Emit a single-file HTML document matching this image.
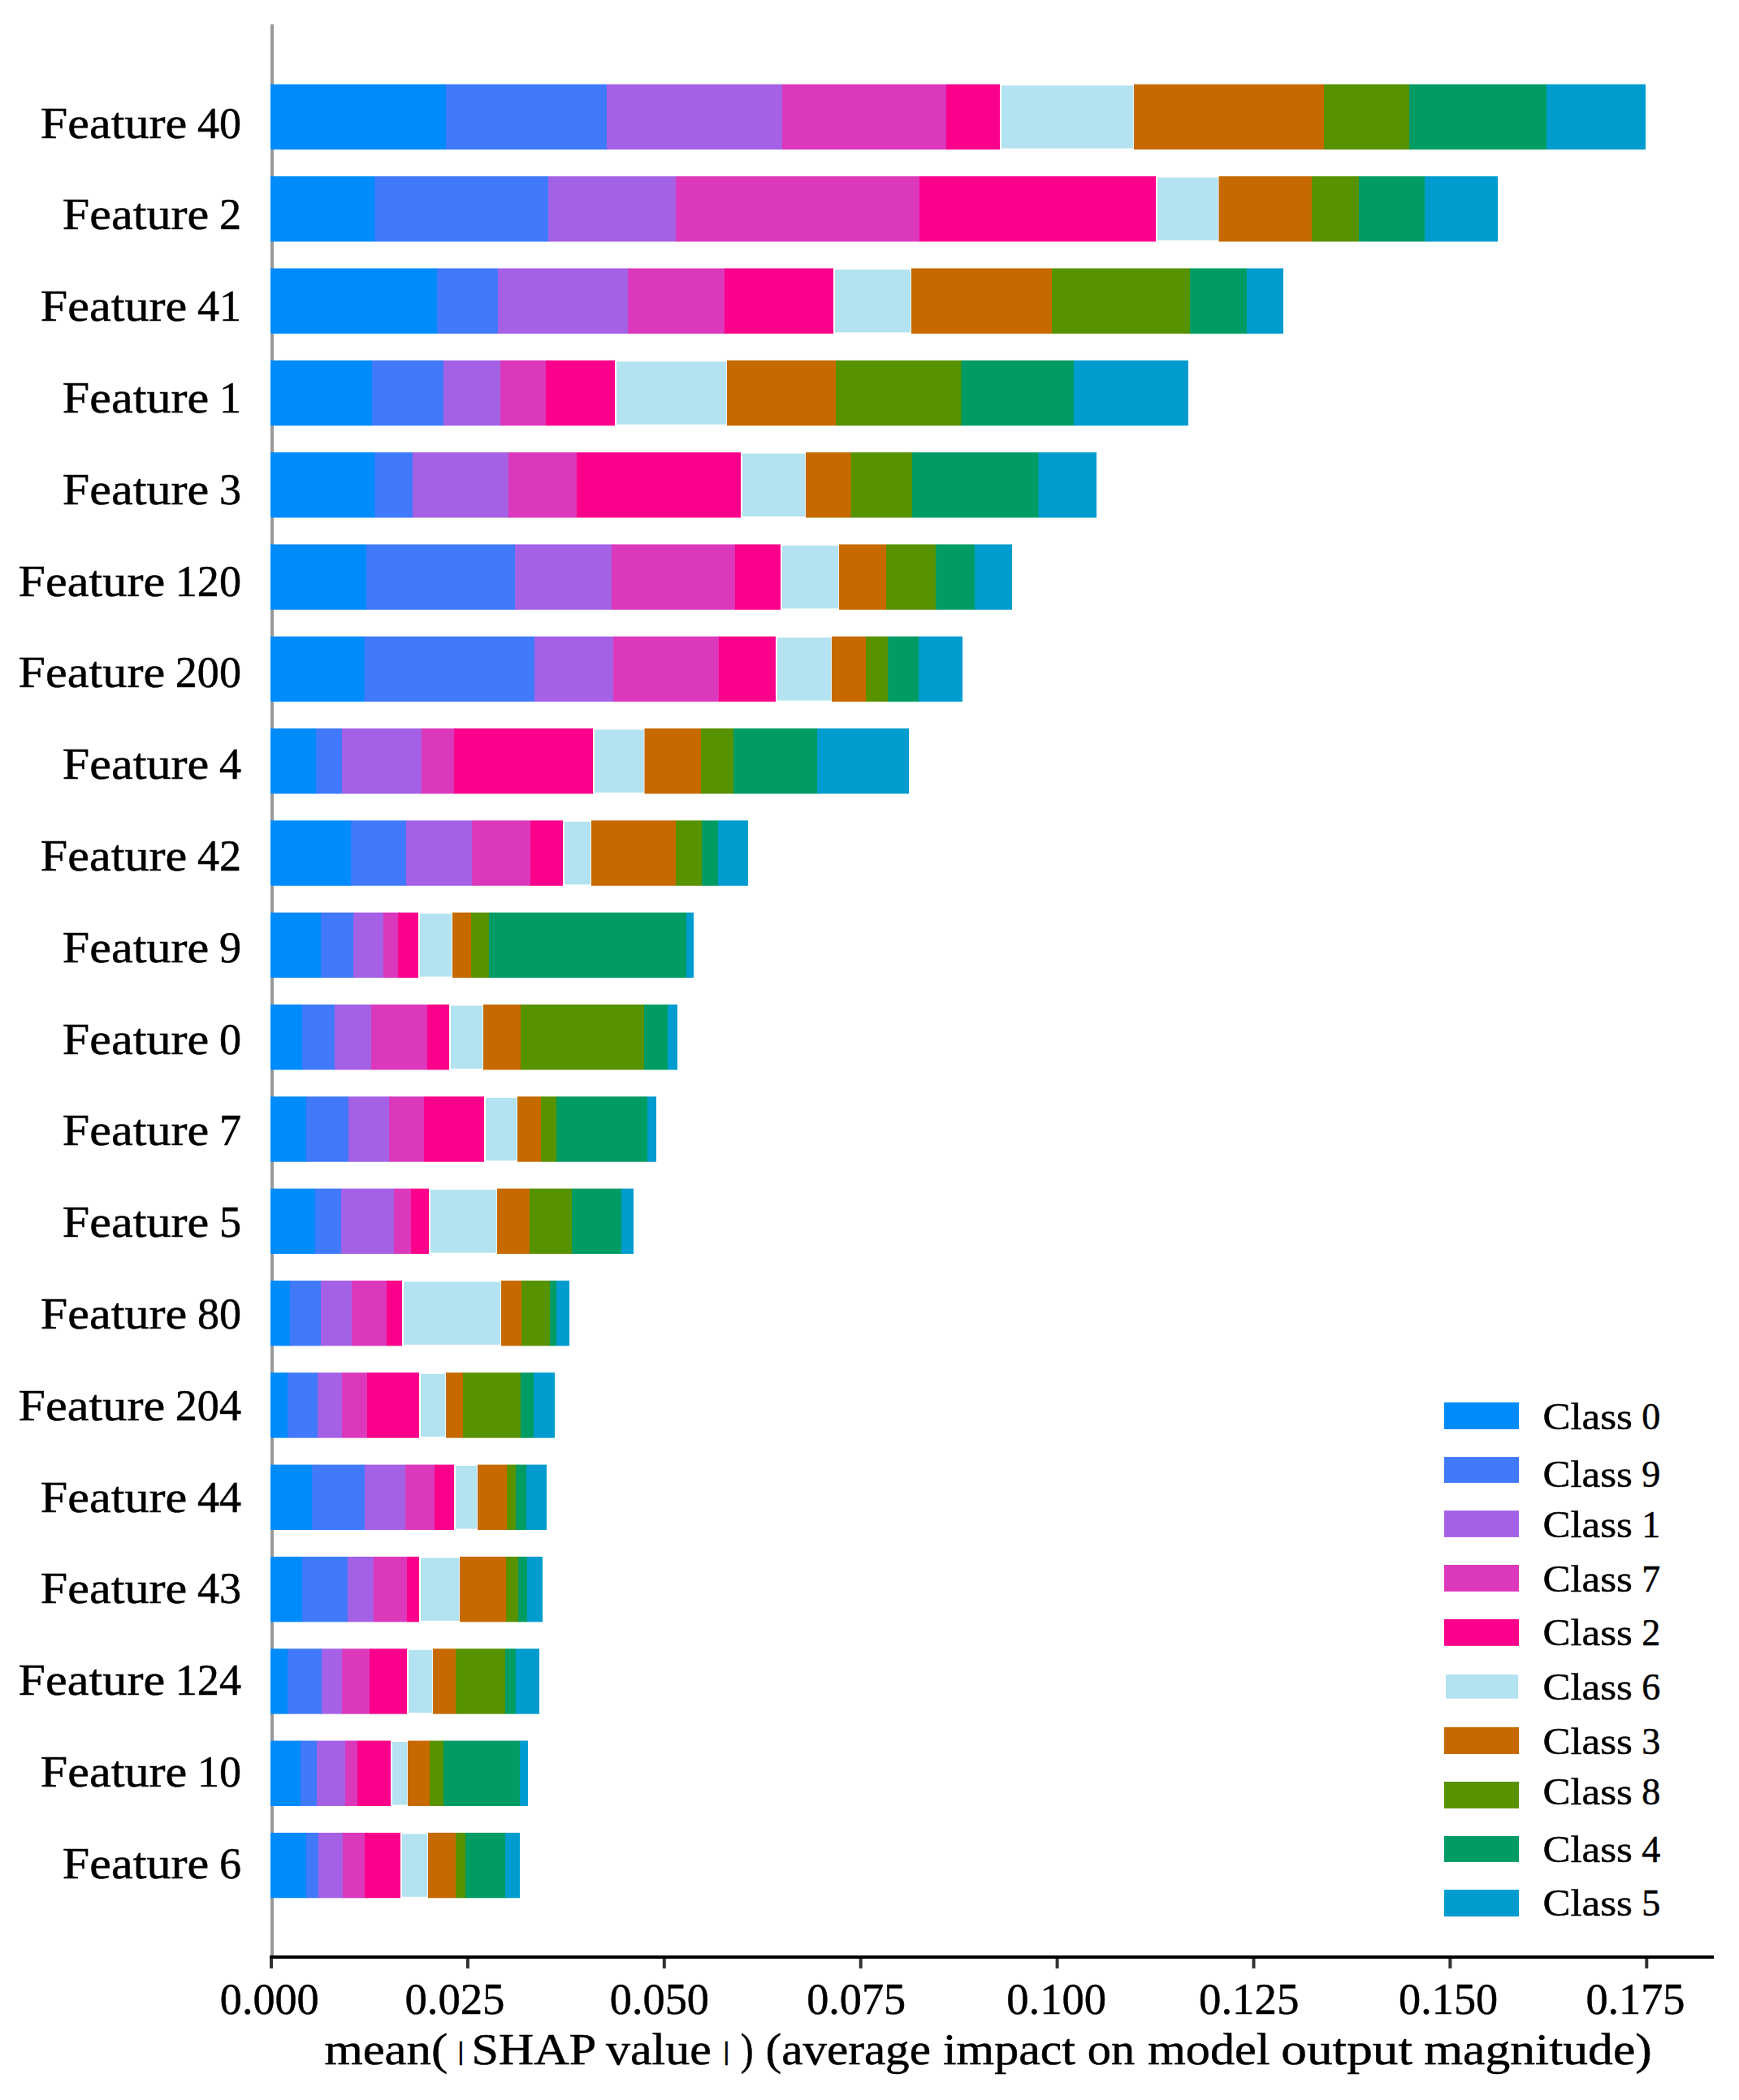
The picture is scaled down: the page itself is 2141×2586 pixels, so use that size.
<!DOCTYPE html>
<html lang="en"><head><meta charset="utf-8"><title>SHAP summary plot</title>
<style>html,body{margin:0;padding:0;background:#fff;width:2141px;height:2586px;overflow:hidden}svg{display:block}text{font-family:"Liberation Serif", serif;fill:#000;stroke:#000;stroke-width:0.5}</style>
</head><body>
<svg width="2141" height="2586" viewBox="0 0 2141 2586">
<rect x="0" y="0" width="2141" height="2586" fill="#ffffff"/>
<rect x="333" y="30" width="4" height="2380" fill="#999999"/>
<g>
<rect x="333.0" y="103.80" width="216.5" height="80.40" fill="#008bfb"/>
<rect x="549.0" y="103.80" width="198.5" height="80.40" fill="#4079fa"/>
<rect x="747.0" y="103.80" width="216.5" height="80.40" fill="#a461e6"/>
<rect x="963.0" y="103.80" width="202.5" height="80.40" fill="#dc38bc"/>
<rect x="1165.0" y="103.80" width="66.0" height="80.40" fill="#fa008b"/>
<rect x="1233.0" y="105.30" width="162.3" height="77.40" fill="#b3e2f0"/>
<rect x="1396.0" y="103.80" width="234.5" height="80.40" fill="#c66a00"/>
<rect x="1630.0" y="103.80" width="105.5" height="80.40" fill="#579200"/>
<rect x="1735.0" y="103.80" width="169.5" height="80.40" fill="#009c63"/>
<rect x="1904.0" y="103.80" width="122.0" height="80.40" fill="#009ccf"/>
</g>
<g>
<rect x="333.0" y="217.12" width="129.0" height="80.40" fill="#008bfb"/>
<rect x="461.5" y="217.12" width="214.0" height="80.40" fill="#4079fa"/>
<rect x="675.0" y="217.12" width="157.5" height="80.40" fill="#a461e6"/>
<rect x="832.0" y="217.12" width="300.5" height="80.40" fill="#dc38bc"/>
<rect x="1132.0" y="217.12" width="291.0" height="80.40" fill="#fa008b"/>
<rect x="1425.0" y="218.62" width="74.8" height="77.40" fill="#b3e2f0"/>
<rect x="1500.5" y="217.12" width="115.0" height="80.40" fill="#c66a00"/>
<rect x="1615.0" y="217.12" width="58.5" height="80.40" fill="#579200"/>
<rect x="1673.0" y="217.12" width="81.5" height="80.40" fill="#009c63"/>
<rect x="1754.0" y="217.12" width="90.0" height="80.40" fill="#009ccf"/>
</g>
<g>
<rect x="333.0" y="330.44" width="205.5" height="80.40" fill="#008bfb"/>
<rect x="538.0" y="330.44" width="75.5" height="80.40" fill="#4079fa"/>
<rect x="613.0" y="330.44" width="160.5" height="80.40" fill="#a461e6"/>
<rect x="773.0" y="330.44" width="119.5" height="80.40" fill="#dc38bc"/>
<rect x="892.0" y="330.44" width="134.0" height="80.40" fill="#fa008b"/>
<rect x="1028.0" y="331.94" width="93.3" height="77.40" fill="#b3e2f0"/>
<rect x="1122.0" y="330.44" width="173.5" height="80.40" fill="#c66a00"/>
<rect x="1295.0" y="330.44" width="170.5" height="80.40" fill="#579200"/>
<rect x="1465.0" y="330.44" width="70.5" height="80.40" fill="#009c63"/>
<rect x="1535.0" y="330.44" width="45.0" height="80.40" fill="#009ccf"/>
</g>
<g>
<rect x="333.0" y="443.76" width="125.5" height="80.40" fill="#008bfb"/>
<rect x="458.0" y="443.76" width="88.5" height="80.40" fill="#4079fa"/>
<rect x="546.0" y="443.76" width="70.5" height="80.40" fill="#a461e6"/>
<rect x="616.0" y="443.76" width="56.5" height="80.40" fill="#dc38bc"/>
<rect x="672.0" y="443.76" width="85.0" height="80.40" fill="#fa008b"/>
<rect x="759.0" y="445.26" width="135.3" height="77.40" fill="#b3e2f0"/>
<rect x="895.0" y="443.76" width="134.5" height="80.40" fill="#c66a00"/>
<rect x="1029.0" y="443.76" width="155.0" height="80.40" fill="#579200"/>
<rect x="1183.5" y="443.76" width="139.0" height="80.40" fill="#009c63"/>
<rect x="1322.0" y="443.76" width="141.0" height="80.40" fill="#009ccf"/>
</g>
<g>
<rect x="333.0" y="557.08" width="129.0" height="80.40" fill="#008bfb"/>
<rect x="461.5" y="557.08" width="47.0" height="80.40" fill="#4079fa"/>
<rect x="508.0" y="557.08" width="118.5" height="80.40" fill="#a461e6"/>
<rect x="626.0" y="557.08" width="84.5" height="80.40" fill="#dc38bc"/>
<rect x="710.0" y="557.08" width="202.0" height="80.40" fill="#fa008b"/>
<rect x="914.0" y="558.58" width="77.3" height="77.40" fill="#b3e2f0"/>
<rect x="992.0" y="557.08" width="56.0" height="80.40" fill="#c66a00"/>
<rect x="1047.5" y="557.08" width="76.0" height="80.40" fill="#579200"/>
<rect x="1123.0" y="557.08" width="156.0" height="80.40" fill="#009c63"/>
<rect x="1278.5" y="557.08" width="71.5" height="80.40" fill="#009ccf"/>
</g>
<g>
<rect x="333.0" y="670.40" width="118.5" height="80.40" fill="#008bfb"/>
<rect x="451.0" y="670.40" width="183.5" height="80.40" fill="#4079fa"/>
<rect x="634.0" y="670.40" width="119.5" height="80.40" fill="#a461e6"/>
<rect x="753.0" y="670.40" width="152.5" height="80.40" fill="#dc38bc"/>
<rect x="905.0" y="670.40" width="56.0" height="80.40" fill="#fa008b"/>
<rect x="963.0" y="671.90" width="69.3" height="77.40" fill="#b3e2f0"/>
<rect x="1033.0" y="670.40" width="58.5" height="80.40" fill="#c66a00"/>
<rect x="1091.0" y="670.40" width="61.5" height="80.40" fill="#579200"/>
<rect x="1152.0" y="670.40" width="48.5" height="80.40" fill="#009c63"/>
<rect x="1200.0" y="670.40" width="46.0" height="80.40" fill="#009ccf"/>
</g>
<g>
<rect x="333.0" y="783.72" width="116.0" height="80.40" fill="#008bfb"/>
<rect x="448.5" y="783.72" width="210.0" height="80.40" fill="#4079fa"/>
<rect x="658.0" y="783.72" width="97.5" height="80.40" fill="#a461e6"/>
<rect x="755.0" y="783.72" width="130.5" height="80.40" fill="#dc38bc"/>
<rect x="885.0" y="783.72" width="70.0" height="80.40" fill="#fa008b"/>
<rect x="957.0" y="785.22" width="66.3" height="77.40" fill="#b3e2f0"/>
<rect x="1024.0" y="783.72" width="42.5" height="80.40" fill="#c66a00"/>
<rect x="1066.0" y="783.72" width="27.5" height="80.40" fill="#579200"/>
<rect x="1093.0" y="783.72" width="38.5" height="80.40" fill="#009c63"/>
<rect x="1131.0" y="783.72" width="54.0" height="80.40" fill="#009ccf"/>
</g>
<g>
<rect x="333.0" y="897.04" width="56.5" height="80.40" fill="#008bfb"/>
<rect x="389.0" y="897.04" width="32.5" height="80.40" fill="#4079fa"/>
<rect x="421.0" y="897.04" width="98.5" height="80.40" fill="#a461e6"/>
<rect x="519.0" y="897.04" width="40.5" height="80.40" fill="#dc38bc"/>
<rect x="559.0" y="897.04" width="171.0" height="80.40" fill="#fa008b"/>
<rect x="732.0" y="898.54" width="60.8" height="77.40" fill="#b3e2f0"/>
<rect x="793.5" y="897.04" width="70.0" height="80.40" fill="#c66a00"/>
<rect x="863.0" y="897.04" width="40.5" height="80.40" fill="#579200"/>
<rect x="903.0" y="897.04" width="103.5" height="80.40" fill="#009c63"/>
<rect x="1006.0" y="897.04" width="113.0" height="80.40" fill="#009ccf"/>
</g>
<g>
<rect x="333.0" y="1010.36" width="99.5" height="80.40" fill="#008bfb"/>
<rect x="432.0" y="1010.36" width="68.5" height="80.40" fill="#4079fa"/>
<rect x="500.0" y="1010.36" width="81.5" height="80.40" fill="#a461e6"/>
<rect x="581.0" y="1010.36" width="72.5" height="80.40" fill="#dc38bc"/>
<rect x="653.0" y="1010.36" width="40.0" height="80.40" fill="#fa008b"/>
<rect x="695.0" y="1011.86" width="32.3" height="77.40" fill="#b3e2f0"/>
<rect x="728.0" y="1010.36" width="104.5" height="80.40" fill="#c66a00"/>
<rect x="832.0" y="1010.36" width="32.5" height="80.40" fill="#579200"/>
<rect x="864.0" y="1010.36" width="20.5" height="80.40" fill="#009c63"/>
<rect x="884.0" y="1010.36" width="37.0" height="80.40" fill="#009ccf"/>
</g>
<g>
<rect x="333.0" y="1123.68" width="62.5" height="80.40" fill="#008bfb"/>
<rect x="395.0" y="1123.68" width="40.5" height="80.40" fill="#4079fa"/>
<rect x="435.0" y="1123.68" width="37.5" height="80.40" fill="#a461e6"/>
<rect x="472.0" y="1123.68" width="18.5" height="80.40" fill="#dc38bc"/>
<rect x="490.0" y="1123.68" width="25.0" height="80.40" fill="#fa008b"/>
<rect x="517.0" y="1125.18" width="39.3" height="77.40" fill="#b3e2f0"/>
<rect x="557.0" y="1123.68" width="23.5" height="80.40" fill="#c66a00"/>
<rect x="580.0" y="1123.68" width="22.5" height="80.40" fill="#579200"/>
<rect x="602.0" y="1123.68" width="243.5" height="80.40" fill="#009c63"/>
<rect x="845.0" y="1123.68" width="9.0" height="80.40" fill="#009ccf"/>
</g>
<g>
<rect x="333.0" y="1237.00" width="39.5" height="80.40" fill="#008bfb"/>
<rect x="372.0" y="1237.00" width="40.5" height="80.40" fill="#4079fa"/>
<rect x="412.0" y="1237.00" width="45.5" height="80.40" fill="#a461e6"/>
<rect x="457.0" y="1237.00" width="69.5" height="80.40" fill="#dc38bc"/>
<rect x="526.0" y="1237.00" width="27.0" height="80.40" fill="#fa008b"/>
<rect x="555.0" y="1238.50" width="39.3" height="77.40" fill="#b3e2f0"/>
<rect x="595.0" y="1237.00" width="46.5" height="80.40" fill="#c66a00"/>
<rect x="641.0" y="1237.00" width="152.5" height="80.40" fill="#579200"/>
<rect x="793.0" y="1237.00" width="29.5" height="80.40" fill="#009c63"/>
<rect x="822.0" y="1237.00" width="12.0" height="80.40" fill="#009ccf"/>
</g>
<g>
<rect x="333.0" y="1350.32" width="44.5" height="80.40" fill="#008bfb"/>
<rect x="377.0" y="1350.32" width="52.5" height="80.40" fill="#4079fa"/>
<rect x="429.0" y="1350.32" width="50.5" height="80.40" fill="#a461e6"/>
<rect x="479.0" y="1350.32" width="43.5" height="80.40" fill="#dc38bc"/>
<rect x="522.0" y="1350.32" width="74.0" height="80.40" fill="#fa008b"/>
<rect x="598.0" y="1351.82" width="38.3" height="77.40" fill="#b3e2f0"/>
<rect x="637.0" y="1350.32" width="29.5" height="80.40" fill="#c66a00"/>
<rect x="666.0" y="1350.32" width="19.5" height="80.40" fill="#579200"/>
<rect x="685.0" y="1350.32" width="112.5" height="80.40" fill="#009c63"/>
<rect x="797.0" y="1350.32" width="11.0" height="80.40" fill="#009ccf"/>
</g>
<g>
<rect x="333.0" y="1463.64" width="55.5" height="80.40" fill="#008bfb"/>
<rect x="388.0" y="1463.64" width="32.5" height="80.40" fill="#4079fa"/>
<rect x="420.0" y="1463.64" width="65.5" height="80.40" fill="#a461e6"/>
<rect x="485.0" y="1463.64" width="21.5" height="80.40" fill="#dc38bc"/>
<rect x="506.0" y="1463.64" width="22.0" height="80.40" fill="#fa008b"/>
<rect x="530.0" y="1465.14" width="81.3" height="77.40" fill="#b3e2f0"/>
<rect x="612.0" y="1463.64" width="40.5" height="80.40" fill="#c66a00"/>
<rect x="652.0" y="1463.64" width="52.5" height="80.40" fill="#579200"/>
<rect x="704.0" y="1463.64" width="61.5" height="80.40" fill="#009c63"/>
<rect x="765.0" y="1463.64" width="15.0" height="80.40" fill="#009ccf"/>
</g>
<g>
<rect x="333.0" y="1576.96" width="24.5" height="80.40" fill="#008bfb"/>
<rect x="357.0" y="1576.96" width="38.5" height="80.40" fill="#4079fa"/>
<rect x="395.0" y="1576.96" width="38.5" height="80.40" fill="#a461e6"/>
<rect x="433.0" y="1576.96" width="43.5" height="80.40" fill="#dc38bc"/>
<rect x="476.0" y="1576.96" width="19.0" height="80.40" fill="#fa008b"/>
<rect x="497.0" y="1578.46" width="119.3" height="77.40" fill="#b3e2f0"/>
<rect x="617.0" y="1576.96" width="25.5" height="80.40" fill="#c66a00"/>
<rect x="642.0" y="1576.96" width="35.5" height="80.40" fill="#579200"/>
<rect x="677.0" y="1576.96" width="8.5" height="80.40" fill="#009c63"/>
<rect x="685.0" y="1576.96" width="16.0" height="80.40" fill="#009ccf"/>
</g>
<g>
<rect x="333.0" y="1690.28" width="21.5" height="80.40" fill="#008bfb"/>
<rect x="354.0" y="1690.28" width="37.5" height="80.40" fill="#4079fa"/>
<rect x="391.0" y="1690.28" width="30.5" height="80.40" fill="#a461e6"/>
<rect x="421.0" y="1690.28" width="31.5" height="80.40" fill="#dc38bc"/>
<rect x="452.0" y="1690.28" width="64.0" height="80.40" fill="#fa008b"/>
<rect x="518.0" y="1691.78" width="30.3" height="77.40" fill="#b3e2f0"/>
<rect x="549.0" y="1690.28" width="21.5" height="80.40" fill="#c66a00"/>
<rect x="570.0" y="1690.28" width="71.5" height="80.40" fill="#579200"/>
<rect x="641.0" y="1690.28" width="16.5" height="80.40" fill="#009c63"/>
<rect x="657.0" y="1690.28" width="26.0" height="80.40" fill="#009ccf"/>
</g>
<g>
<rect x="333.0" y="1803.60" width="51.5" height="80.40" fill="#008bfb"/>
<rect x="384.0" y="1803.60" width="65.5" height="80.40" fill="#4079fa"/>
<rect x="449.0" y="1803.60" width="50.5" height="80.40" fill="#a461e6"/>
<rect x="499.0" y="1803.60" width="36.5" height="80.40" fill="#dc38bc"/>
<rect x="535.0" y="1803.60" width="24.0" height="80.40" fill="#fa008b"/>
<rect x="561.0" y="1805.10" width="26.3" height="77.40" fill="#b3e2f0"/>
<rect x="588.0" y="1803.60" width="36.5" height="80.40" fill="#c66a00"/>
<rect x="624.0" y="1803.60" width="11.5" height="80.40" fill="#579200"/>
<rect x="635.0" y="1803.60" width="13.5" height="80.40" fill="#009c63"/>
<rect x="648.0" y="1803.60" width="25.0" height="80.40" fill="#009ccf"/>
</g>
<g>
<rect x="333.0" y="1916.92" width="39.5" height="80.40" fill="#008bfb"/>
<rect x="372.0" y="1916.92" width="56.5" height="80.40" fill="#4079fa"/>
<rect x="428.0" y="1916.92" width="32.5" height="80.40" fill="#a461e6"/>
<rect x="460.0" y="1916.92" width="41.5" height="80.40" fill="#dc38bc"/>
<rect x="501.0" y="1916.92" width="15.0" height="80.40" fill="#fa008b"/>
<rect x="518.0" y="1918.42" width="47.3" height="77.40" fill="#b3e2f0"/>
<rect x="566.0" y="1916.92" width="57.5" height="80.40" fill="#c66a00"/>
<rect x="623.0" y="1916.92" width="15.5" height="80.40" fill="#579200"/>
<rect x="638.0" y="1916.92" width="11.5" height="80.40" fill="#009c63"/>
<rect x="649.0" y="1916.92" width="19.0" height="80.40" fill="#009ccf"/>
</g>
<g>
<rect x="333.0" y="2030.24" width="21.5" height="80.40" fill="#008bfb"/>
<rect x="354.0" y="2030.24" width="42.5" height="80.40" fill="#4079fa"/>
<rect x="396.0" y="2030.24" width="25.5" height="80.40" fill="#a461e6"/>
<rect x="421.0" y="2030.24" width="34.5" height="80.40" fill="#dc38bc"/>
<rect x="455.0" y="2030.24" width="46.0" height="80.40" fill="#fa008b"/>
<rect x="503.0" y="2031.74" width="29.3" height="77.40" fill="#b3e2f0"/>
<rect x="533.0" y="2030.24" width="28.5" height="80.40" fill="#c66a00"/>
<rect x="561.0" y="2030.24" width="61.5" height="80.40" fill="#579200"/>
<rect x="622.0" y="2030.24" width="13.5" height="80.40" fill="#009c63"/>
<rect x="635.0" y="2030.24" width="29.0" height="80.40" fill="#009ccf"/>
</g>
<g>
<rect x="333.0" y="2143.56" width="37.5" height="80.40" fill="#008bfb"/>
<rect x="370.0" y="2143.56" width="20.5" height="80.40" fill="#4079fa"/>
<rect x="390.0" y="2143.56" width="35.5" height="80.40" fill="#a461e6"/>
<rect x="425.0" y="2143.56" width="15.5" height="80.40" fill="#dc38bc"/>
<rect x="440.0" y="2143.56" width="41.0" height="80.40" fill="#fa008b"/>
<rect x="483.0" y="2145.06" width="18.3" height="77.40" fill="#b3e2f0"/>
<rect x="502.0" y="2143.56" width="27.5" height="80.40" fill="#c66a00"/>
<rect x="529.0" y="2143.56" width="17.5" height="80.40" fill="#579200"/>
<rect x="546.0" y="2143.56" width="94.5" height="80.40" fill="#009c63"/>
<rect x="640.0" y="2143.56" width="10.0" height="80.40" fill="#009ccf"/>
</g>
<g>
<rect x="333.0" y="2256.88" width="44.5" height="80.40" fill="#008bfb"/>
<rect x="377.0" y="2256.88" width="15.5" height="80.40" fill="#4079fa"/>
<rect x="392.0" y="2256.88" width="30.5" height="80.40" fill="#a461e6"/>
<rect x="422.0" y="2256.88" width="27.5" height="80.40" fill="#dc38bc"/>
<rect x="449.0" y="2256.88" width="44.0" height="80.40" fill="#fa008b"/>
<rect x="495.0" y="2258.38" width="31.3" height="77.40" fill="#b3e2f0"/>
<rect x="527.0" y="2256.88" width="34.5" height="80.40" fill="#c66a00"/>
<rect x="561.0" y="2256.88" width="12.5" height="80.40" fill="#579200"/>
<rect x="573.0" y="2256.88" width="49.5" height="80.40" fill="#009c63"/>
<rect x="622.0" y="2256.88" width="18.0" height="80.40" fill="#009ccf"/>
</g>
<rect x="332.0" y="2410" width="4" height="14" fill="#333333"/>
<rect x="573.9" y="2410" width="4" height="14" fill="#333333"/>
<rect x="815.8" y="2410" width="4" height="14" fill="#333333"/>
<rect x="1057.7" y="2410" width="4" height="14" fill="#333333"/>
<rect x="1299.6" y="2410" width="4" height="14" fill="#333333"/>
<rect x="1541.5" y="2410" width="4" height="14" fill="#333333"/>
<rect x="1783.4" y="2410" width="4" height="14" fill="#333333"/>
<rect x="2025.3" y="2410" width="4" height="14" fill="#333333"/>
<rect x="332" y="2408" width="1778" height="4" fill="#000000"/>
<rect x="1778" y="1727.0" width="92" height="33.0" fill="#008bfb"/>
<rect x="1778" y="1794.1" width="92" height="31.9" fill="#4079fa"/>
<rect x="1778" y="1860.2" width="92" height="32.7" fill="#a461e6"/>
<rect x="1778" y="1927.0" width="92" height="32.8" fill="#dc38bc"/>
<rect x="1778" y="1993.9" width="92" height="32.9" fill="#fa008b"/>
<rect x="1780" y="2062.1" width="89" height="29.6" fill="#b3e2f0"/>
<rect x="1778" y="2126.9" width="92" height="33.1" fill="#c66a00"/>
<rect x="1778" y="2194.0" width="92" height="32.9" fill="#579200"/>
<rect x="1778" y="2261.0" width="92" height="31.9" fill="#009c63"/>
<rect x="1778" y="2327.1" width="92" height="32.9" fill="#009ccf"/>
<text y="169.5" font-size="55"><tspan x="49.7" y="169.5" textLength="180.6" lengthAdjust="spacingAndGlyphs">Feature</tspan> <tspan x="242.9" y="169.5" textLength="54.1" lengthAdjust="spacingAndGlyphs">40</tspan></text>
<text y="282.3" font-size="55"><tspan x="76.7" y="282.3" textLength="180.6" lengthAdjust="spacingAndGlyphs">Feature</tspan> <tspan x="269.9" y="282.3" textLength="27.1" lengthAdjust="spacingAndGlyphs">2</tspan></text>
<text y="395.1" font-size="55"><tspan x="49.7" y="395.1" textLength="180.6" lengthAdjust="spacingAndGlyphs">Feature</tspan> <tspan x="242.9" y="395.1" textLength="54.1" lengthAdjust="spacingAndGlyphs">41</tspan></text>
<text y="507.9" font-size="55"><tspan x="76.7" y="507.9" textLength="180.6" lengthAdjust="spacingAndGlyphs">Feature</tspan> <tspan x="269.9" y="507.9" textLength="27.1" lengthAdjust="spacingAndGlyphs">1</tspan></text>
<text y="620.7" font-size="55"><tspan x="76.7" y="620.7" textLength="180.6" lengthAdjust="spacingAndGlyphs">Feature</tspan> <tspan x="269.9" y="620.7" textLength="27.1" lengthAdjust="spacingAndGlyphs">3</tspan></text>
<text y="733.5" font-size="55"><tspan x="22.6" y="733.5" textLength="180.6" lengthAdjust="spacingAndGlyphs">Feature</tspan> <tspan x="215.8" y="733.5" textLength="81.2" lengthAdjust="spacingAndGlyphs">120</tspan></text>
<text y="846.3" font-size="55"><tspan x="22.6" y="846.3" textLength="180.6" lengthAdjust="spacingAndGlyphs">Feature</tspan> <tspan x="215.8" y="846.3" textLength="81.2" lengthAdjust="spacingAndGlyphs">200</tspan></text>
<text y="959.1" font-size="55"><tspan x="76.7" y="959.1" textLength="180.6" lengthAdjust="spacingAndGlyphs">Feature</tspan> <tspan x="269.9" y="959.1" textLength="27.1" lengthAdjust="spacingAndGlyphs">4</tspan></text>
<text y="1071.9" font-size="55"><tspan x="49.7" y="1071.9" textLength="180.6" lengthAdjust="spacingAndGlyphs">Feature</tspan> <tspan x="242.9" y="1071.9" textLength="54.1" lengthAdjust="spacingAndGlyphs">42</tspan></text>
<text y="1184.7" font-size="55"><tspan x="76.7" y="1184.7" textLength="180.6" lengthAdjust="spacingAndGlyphs">Feature</tspan> <tspan x="269.9" y="1184.7" textLength="27.1" lengthAdjust="spacingAndGlyphs">9</tspan></text>
<text y="1297.5" font-size="55"><tspan x="76.7" y="1297.5" textLength="180.6" lengthAdjust="spacingAndGlyphs">Feature</tspan> <tspan x="269.9" y="1297.5" textLength="27.1" lengthAdjust="spacingAndGlyphs">0</tspan></text>
<text y="1410.3" font-size="55"><tspan x="76.7" y="1410.3" textLength="180.6" lengthAdjust="spacingAndGlyphs">Feature</tspan> <tspan x="269.9" y="1410.3" textLength="27.1" lengthAdjust="spacingAndGlyphs">7</tspan></text>
<text y="1523.1" font-size="55"><tspan x="76.7" y="1523.1" textLength="180.6" lengthAdjust="spacingAndGlyphs">Feature</tspan> <tspan x="269.9" y="1523.1" textLength="27.1" lengthAdjust="spacingAndGlyphs">5</tspan></text>
<text y="1635.9" font-size="55"><tspan x="49.7" y="1635.9" textLength="180.6" lengthAdjust="spacingAndGlyphs">Feature</tspan> <tspan x="242.9" y="1635.9" textLength="54.1" lengthAdjust="spacingAndGlyphs">80</tspan></text>
<text y="1748.7" font-size="55"><tspan x="22.6" y="1748.7" textLength="180.6" lengthAdjust="spacingAndGlyphs">Feature</tspan> <tspan x="215.8" y="1748.7" textLength="81.2" lengthAdjust="spacingAndGlyphs">204</tspan></text>
<text y="1861.5" font-size="55"><tspan x="49.7" y="1861.5" textLength="180.6" lengthAdjust="spacingAndGlyphs">Feature</tspan> <tspan x="242.9" y="1861.5" textLength="54.1" lengthAdjust="spacingAndGlyphs">44</tspan></text>
<text y="1974.3" font-size="55"><tspan x="49.7" y="1974.3" textLength="180.6" lengthAdjust="spacingAndGlyphs">Feature</tspan> <tspan x="242.9" y="1974.3" textLength="54.1" lengthAdjust="spacingAndGlyphs">43</tspan></text>
<text y="2087.1" font-size="55"><tspan x="22.6" y="2087.1" textLength="180.6" lengthAdjust="spacingAndGlyphs">Feature</tspan> <tspan x="215.8" y="2087.1" textLength="81.2" lengthAdjust="spacingAndGlyphs">124</tspan></text>
<text y="2199.9" font-size="55"><tspan x="49.7" y="2199.9" textLength="180.6" lengthAdjust="spacingAndGlyphs">Feature</tspan> <tspan x="242.9" y="2199.9" textLength="54.1" lengthAdjust="spacingAndGlyphs">10</tspan></text>
<text y="2312.7" font-size="55"><tspan x="76.7" y="2312.7" textLength="180.6" lengthAdjust="spacingAndGlyphs">Feature</tspan> <tspan x="269.9" y="2312.7" textLength="27.1" lengthAdjust="spacingAndGlyphs">6</tspan></text>
<text y="2480.0" font-size="55"><tspan x="270.8" textLength="121.9" lengthAdjust="spacingAndGlyphs">0.000</tspan></text>
<text y="2480.0" font-size="55"><tspan x="498.4" textLength="123.0" lengthAdjust="spacingAndGlyphs">0.025</tspan></text>
<text y="2480.0" font-size="55"><tspan x="750.8" textLength="122.2" lengthAdjust="spacingAndGlyphs">0.050</tspan></text>
<text y="2480.0" font-size="55"><tspan x="993.2" textLength="121.9" lengthAdjust="spacingAndGlyphs">0.075</tspan></text>
<text y="2480.0" font-size="55"><tspan x="1239.3" textLength="122.8" lengthAdjust="spacingAndGlyphs">0.100</tspan></text>
<text y="2480.0" font-size="55"><tspan x="1476.0" textLength="123.3" lengthAdjust="spacingAndGlyphs">0.125</tspan></text>
<text y="2480.0" font-size="55"><tspan x="1722.1" textLength="122.1" lengthAdjust="spacingAndGlyphs">0.150</tspan></text>
<text y="2480.0" font-size="55"><tspan x="1952.4" textLength="122.1" lengthAdjust="spacingAndGlyphs">0.175</tspan></text>
<text y="2541.5" font-size="55"><tspan x="399.4" y="2541.5" textLength="151.8" lengthAdjust="spacingAndGlyphs">mean(</tspan><tspan x="563.0" font-size="31" y="2535.5" textLength="8.7" lengthAdjust="spacingAndGlyphs">|</tspan><tspan x="580.4" y="2541.5" textLength="151.6" lengthAdjust="spacingAndGlyphs">SHAP</tspan> <tspan x="746.0" y="2541.5" textLength="129.9" lengthAdjust="spacingAndGlyphs">value</tspan><tspan x="889.9" font-size="31" y="2535.5" textLength="8.7" lengthAdjust="spacingAndGlyphs">|</tspan><tspan x="911.7" y="2541.5" textLength="15.9" lengthAdjust="spacingAndGlyphs">)</tspan> <tspan x="942.5" y="2541.5" textLength="203.4" lengthAdjust="spacingAndGlyphs">(average</tspan> <tspan x="1160.9" y="2541.5" textLength="163.1" lengthAdjust="spacingAndGlyphs">impact</tspan> <tspan x="1338.8" y="2541.5" textLength="58.2" lengthAdjust="spacingAndGlyphs">on</tspan> <tspan x="1412.9" y="2541.5" textLength="150.7" lengthAdjust="spacingAndGlyphs">model</tspan> <tspan x="1577.3" y="2541.5" textLength="161.7" lengthAdjust="spacingAndGlyphs">output</tspan> <tspan x="1753.2" y="2541.5" textLength="280.6" lengthAdjust="spacingAndGlyphs">magnitude)</tspan></text>
<text y="1759.9" font-size="47"><tspan x="1899.4" y="1759.9" textLength="110.6" lengthAdjust="spacingAndGlyphs">Class</tspan> <tspan x="2021.2" y="1759.9" textLength="23.0" lengthAdjust="spacingAndGlyphs">0</tspan></text>
<text y="1831.0" font-size="47"><tspan x="1899.4" y="1831.0" textLength="110.6" lengthAdjust="spacingAndGlyphs">Class</tspan> <tspan x="2021.2" y="1831.0" textLength="23.0" lengthAdjust="spacingAndGlyphs">9</tspan></text>
<text y="1892.7" font-size="47"><tspan x="1899.4" y="1892.7" textLength="110.6" lengthAdjust="spacingAndGlyphs">Class</tspan> <tspan x="2021.2" y="1892.7" textLength="23.0" lengthAdjust="spacingAndGlyphs">1</tspan></text>
<text y="1959.9" font-size="47"><tspan x="1899.4" y="1959.9" textLength="110.6" lengthAdjust="spacingAndGlyphs">Class</tspan> <tspan x="2021.2" y="1959.9" textLength="23.0" lengthAdjust="spacingAndGlyphs">7</tspan></text>
<text y="2026.1" font-size="47"><tspan x="1899.4" y="2026.1" textLength="110.6" lengthAdjust="spacingAndGlyphs">Class</tspan> <tspan x="2021.2" y="2026.1" textLength="23.0" lengthAdjust="spacingAndGlyphs">2</tspan></text>
<text y="2092.8" font-size="47"><tspan x="1899.4" y="2092.8" textLength="110.6" lengthAdjust="spacingAndGlyphs">Class</tspan> <tspan x="2021.2" y="2092.8" textLength="23.0" lengthAdjust="spacingAndGlyphs">6</tspan></text>
<text y="2159.6" font-size="47"><tspan x="1899.4" y="2159.6" textLength="110.6" lengthAdjust="spacingAndGlyphs">Class</tspan> <tspan x="2021.2" y="2159.6" textLength="23.0" lengthAdjust="spacingAndGlyphs">3</tspan></text>
<text y="2221.6" font-size="47"><tspan x="1899.4" y="2221.6" textLength="110.6" lengthAdjust="spacingAndGlyphs">Class</tspan> <tspan x="2021.2" y="2221.6" textLength="23.0" lengthAdjust="spacingAndGlyphs">8</tspan></text>
<text y="2292.8" font-size="47"><tspan x="1899.4" y="2292.8" textLength="110.6" lengthAdjust="spacingAndGlyphs">Class</tspan> <tspan x="2021.2" y="2292.8" textLength="23.0" lengthAdjust="spacingAndGlyphs">4</tspan></text>
<text y="2358.5" font-size="47"><tspan x="1899.4" y="2358.5" textLength="110.6" lengthAdjust="spacingAndGlyphs">Class</tspan> <tspan x="2021.2" y="2358.5" textLength="23.0" lengthAdjust="spacingAndGlyphs">5</tspan></text>
</svg>
</body></html>
